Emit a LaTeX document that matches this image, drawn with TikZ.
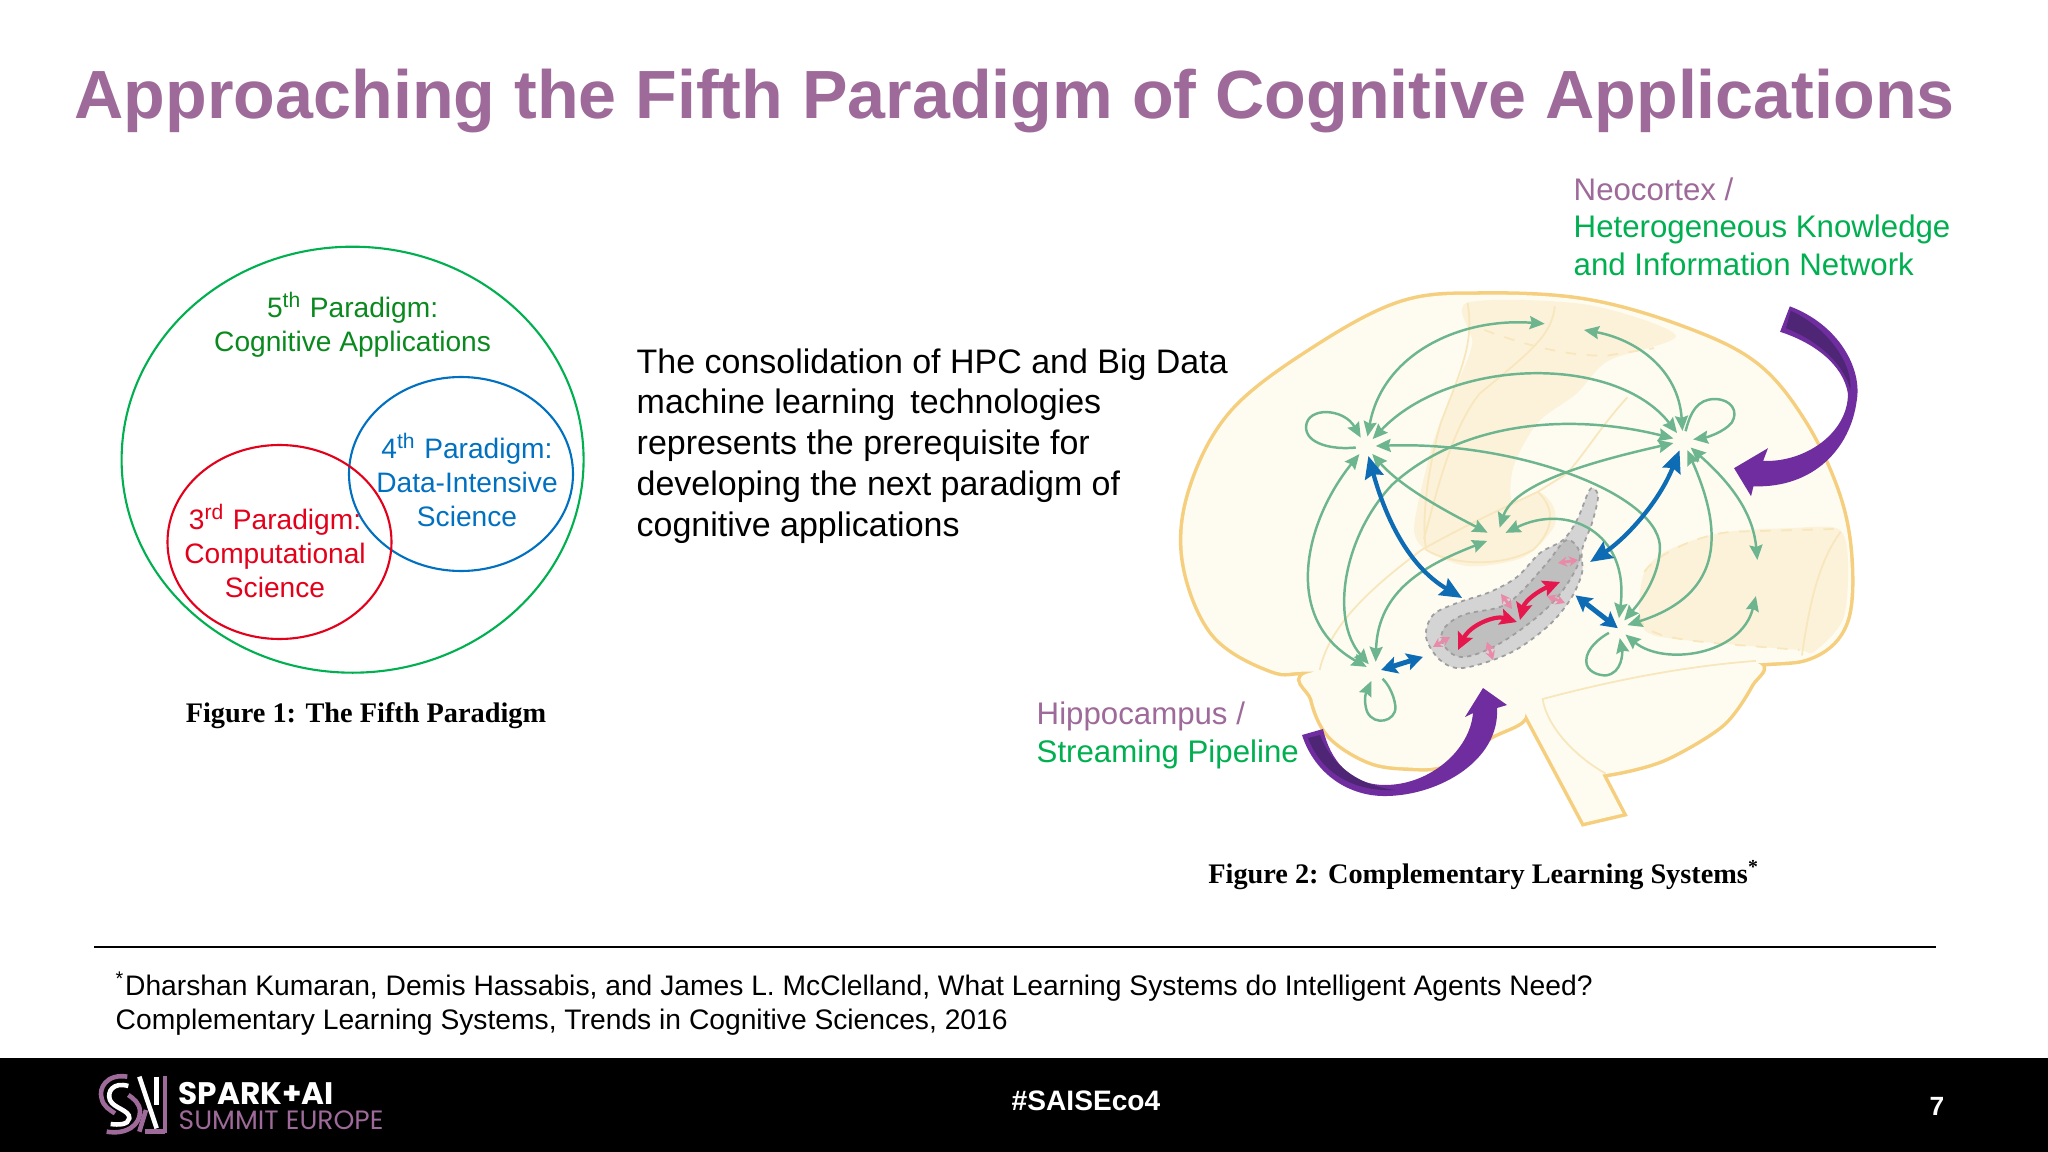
\documentclass[tikz,border=0pt]{standalone}
\usepackage{fontspec}
\usetikzlibrary{arrows.meta,positioning}
\setmainfont{Liberation Sans}
\newfontfamily\capfont{Liberation Serif}
\newfontfamily\logofont{Poppins}

\definecolor{titlepurple}{HTML}{9E6A99}
\definecolor{labelgreen}{HTML}{00B050}
\definecolor{darkgreen}{HTML}{0A8A1E}
\definecolor{paradigmblue}{HTML}{0070C0}
\definecolor{paradigmred}{HTML}{E3001B}
\definecolor{brainfill}{HTML}{FEFCF0}
\definecolor{brainline}{HTML}{F5CF7E}
\definecolor{lobefill}{HTML}{FCF2DA}
\definecolor{lobeline}{HTML}{F8E6BC}
\definecolor{syngreen}{HTML}{6DB58F}
\definecolor{synblue}{HTML}{0E6CB4}
\definecolor{synred}{HTML}{E6174C}
\definecolor{synpink}{HTML}{E88AA8}
\definecolor{fatpurple}{HTML}{6F2DA0}
\definecolor{deeppurple}{HTML}{4E2675}

\tikzset{
	brainzoom/.style={shift={(1150,270)},xscale=0.4847,yscale=0.3636},
	synline/.style={draw=syngreen, line width=0.7pt, shorten <=0.1cm, shorten >=0.1cm, >={Stealth[length=0.15cm,width=0.13cm,inset=0.02cm]}},
	syn/.style={synline, <->},
	synloop/.style={synline, ->},
	fatblue/.style={draw=synblue, line width=1.2pt, shorten <=0.1cm, <->, >={Stealth[length=0.22cm,width=0.19cm,inset=0.03cm]}},
	fatshort/.style={draw=synblue, line width=1.4pt, shorten <=0.06cm, <->, >={Stealth[length=0.16cm,width=0.17cm,inset=0.03cm]}},
	fatred/.style={draw=synred, line width=1.2pt, <->, >={Stealth[length=0.17cm,width=0.16cm,inset=0.03cm]}},
	pinkarrow/.style={draw=synpink, line width=0.8pt, <->, >={Stealth[length=0.09cm,width=0.1cm]}},
	lobeedge/.style={draw=lobeline, line width=0.5pt},
	paradigm/.style={align=center, inner sep=0pt, font=\fontsize{8}{9.7}\selectfont},
	sidelabel/.style={anchor=west, inner sep=0pt, font=\fontsize{8.88}{10.8}\selectfont},
	capt/.style={inner sep=0pt, font=\capfont\bfseries\fontsize{8.05}{9.7}\selectfont},
}

\newcommand{\cerebrumpath}{plot[smooth cycle, tension=0.6] coordinates {(340,1105) (250,1100) (130,1000) (70,800) (85,600) (170,390) (340,215) (520,90) (690,68) (900,85) (1100,160) (1250,260) (1350,420) (1420,620) (1445,800) (1435,970) (1370,1060) (1250,1082) (900,1100) (600,1120)}}
\newcommand{\temporalpath}{plot[smooth cycle, tension=0.6] coordinates {(340,1105) (335,1180) (370,1280) (450,1350) (530,1368) (610,1360) (700,1285) (775,1220) (700,1100)}}
\newcommand{\cerebellumpath}{plot[smooth cycle, tension=0.5] coordinates {(800,1200) (860,1385) (945,1385) (1060,1345) (1180,1250) (1240,1140) (1250,1080) (1000,1050)}}
\newcommand{\stempath}{(700,1100)--(775,1220)--(895,1520)--(975,1495)--(930,1380)--(860,1200)--(1000,1050)--cycle}

\begin{document}
\begin{tikzpicture}[x=0.01cm,y=-0.01cm]
	\useasboundingbox (0,0) rectangle (2048,1152);
	\fill[white] (0,0) rectangle (2048,1152);

	\node[anchor=west, inner sep=0pt, text=titlepurple, font=\bfseries\fontsize{19.4}{24}\selectfont] (title) at (74,101) {Approaching the Fifth Paradigm of Cognitive Applications};

	% paradigms
	\draw[labelgreen, line width=0.6pt] (352.6,459.7) ellipse [x radius=231, y radius=213];
	\draw[paradigmblue, line width=0.6pt] (461,474) ellipse [x radius=112, y radius=97];
	\draw[paradigmred, line width=0.6pt] (279.5,542) ellipse [x radius=112, y radius=97];

	\node[paradigm, text=darkgreen] (fifth) at (352.6,325) {5\textsuperscript{th} Paradigm:\\Cognitive Applications};
	\node[paradigm, text=paradigmblue] (fourth) at (467,480) {4\textsuperscript{th} Paradigm:\\Data-Intensive\\Science};
	\node[paradigm, text=paradigmred] (third) at (275,551) {3\textsuperscript{rd} Paradigm:\\Computational\\Science};
	\node[capt] (figone) at (366,716) {Figure 1: The Fifth Paradigm};

	\node[anchor=west, align=left, inner sep=0pt, font=\fontsize{9.66}{11.6}\selectfont] (consolidation) at (636,446) {The consolidation of HPC and Big Data\\machine learning\, technologies\\represents the prerequisite for\\developing the next paradigm of\\cognitive applications};

	% brain
	\begin{scope}[brainzoom]
		\draw[brainline, line width=2pt] \cerebrumpath;
		\draw[brainline, line width=2pt] \temporalpath;
		\draw[brainline, line width=2pt] \cerebellumpath;
		\draw[brainline, line width=2pt] \stempath;
		\fill[brainfill] \cerebrumpath;
		\fill[brainfill] \temporalpath;
		\fill[brainfill] \cerebellumpath;
		\fill[brainfill] \stempath;

		\fill[lobefill] plot[smooth cycle, tension=0.5] coordinates {(655,90) (665,200) (635,310) (590,450) (560,600) (545,720) (575,775) (660,815) (770,790) (832,710) (832,650) (800,610) (748,640) (750,540) (800,420) (880,340) (945,250) (1085,180) (900,95)};
		\fill[lobefill] plot[smooth cycle, tension=0.5] coordinates {(1070,770) (1180,722) (1320,710) (1420,712) (1440,800) (1430,960) (1370,1050) (1340,1045) (1200,1030) (1040,1005) (1010,950) (1020,830)};
		\draw[lobeline, line width=0.5pt, dashed] (1020,830)..controls (1040,790) and (1120,730) .. (1200,720) -- (1420,712);
		\draw[lobeline, line width=0.5pt, dashed] (1010,950) .. controls (1015,1000) and (1060,1015) .. (1200,1030) -- (1340,1045);
		\draw[lobeline, line width=0.5pt, dashed] (690,165) .. controls (760,200) and (860,240) .. (945,235) -- (1040,215);
		\draw[lobeedge] (655,90) .. controls (670,200) and (640,280) .. (600,420) .. controls (570,560) and (560,700) .. (570,770) .. controls (620,810) and (720,820) .. (790,770) .. controls (830,720) and (840,660) .. (800,610);
		\draw[lobeedge] (835,100) .. controls (830,180) and (780,230) .. (680,340) .. controls (620,440) and (590,620) .. (565,740);
		\draw[lobeedge] (350,1100) .. controls (370,980) and (450,880) .. (560,770) .. controls (640,710) and (720,660) .. (800,610);
		\draw[lobeedge] (985,350) .. controls (930,430) and (900,500) .. (860,560) -- (800,610);
		\draw[lobeedge] (1425,720) .. controls (1380,800) and (1360,920) .. (1345,1060);
		\draw[lobeedge] (1250,1075) .. controls (1100,1090) and (950,1130) .. (810,1180) .. controls (820,1260) and (880,1340) .. (940,1385);
	\end{scope}

	% hippocampus
	\filldraw[fill=black!17, draw=black!38, line width=0.5pt, dash pattern=on 1.2pt off 1.2pt] plot[smooth cycle, tension=0.55] coordinates {(1593,488) (1598,497) (1592,523) (1582,550) (1582,573) (1570,600) (1547,627) (1510,653) (1463,668) (1440,660) (1426,637) (1433,615) (1457,603) (1490,592) (1517,577) (1540,553) (1563,540) (1577,520) (1588,493)};
	\filldraw[fill=black!25, draw=black!38, line width=0.5pt, dash pattern=on 1.2pt off 1.2pt] plot[smooth cycle, tension=0.6] coordinates {(1567,540) (1580,557) (1563,590) (1537,617) (1497,645) (1463,657) (1445,647) (1443,630) (1463,615) (1500,607) (1520,593) (1547,563)};

	\begin{scope}[brainzoom]
		\coordinate (lhub) at (445,485);
		\coordinate (rhub) at (1100,470);
		\coordinate (chub) at (715,735);
		\coordinate (llhub) at (465,1105);
		\coordinate (lrhub) at (965,985);
		\coordinate (topl) at (835,150);
		\coordinate (topr) at (875,160);
		\coordinate (rmid) at (1255,825);
		\coordinate (rlow) at (1255,870);
		\coordinate (hipl) at (644,902);
		\coordinate (hipr) at (908,803);
		\coordinate (hipd) at (878,895);
		\coordinate (hipb) at (563,1064);

		\draw[syn] (lhub) .. controls (480,230) and (640,130) .. (topl);
		\draw[syn] (rhub) .. controls (1090,270) and (1000,190) .. (topr);
		\draw[syn] (lhub) .. controls (620,240) and (960,230) .. (rhub);
		\draw[syn] (rhub) .. controls (860,390) and (640,420) .. (500,590) .. controls (400,730) and (370,960) .. (llhub);
		\draw[syn] (lhub) .. controls (760,470) and (1060,620) .. (1052,770) .. controls (1048,860) and (1000,930) .. (lrhub);
		\draw[syn] (lhub) .. controls (520,600) and (620,670) .. (chub);
		\draw[syn] (lhub) .. controls (320,690) and (270,960) .. (llhub);
		\draw[syn] (rhub) .. controls (900,530) and (750,590) .. (chub);
		\draw[syn] (chub) .. controls (860,640) and (990,720) .. (lrhub);
		\draw[syn] (llhub) .. controls (470,880) and (570,810) .. (chub);
		\draw[syn] (rhub) .. controls (1180,710) and (1190,890) .. (lrhub);
		\draw[syn] (rhub) .. controls (1210,600) and (1245,680) .. (rmid);
		\draw[syn] (lrhub) .. controls (1060,1090) and (1220,1060) .. (rlow);

		\draw[synloop] (lhub) .. controls (380,495) and (320,480) .. (322,430) .. controls (325,375) and (400,380) .. (lhub);
		\draw[synloop] (rhub) .. controls (1115,390) and (1130,355) .. (1165,355) .. controls (1200,355) and (1215,390) .. (1200,420) .. controls (1185,445) and (1150,460) .. (rhub);
		\draw[synloop] (llhub) .. controls (500,1150) and (510,1200) .. (505,1215) .. controls (495,1250) and (450,1250) .. (445,1200) .. controls (440,1170) and (450,1150) .. (llhub);
		\draw[synloop] (lrhub) .. controls (930,1010) and (900,1040) .. (900,1075) .. controls (900,1105) and (925,1115) .. (940,1115) .. controls (975,1110) and (975,1050) .. (lrhub);

		\draw[fatblue] (lhub) .. controls (490,700) and (540,820) .. (hipl);
		\draw[fatblue] (rhub) .. controls (1050,640) and (980,740) .. (hipr);
		\draw[fatshort, shorten <=0pt] (hipd) -- (lrhub);
		\draw[fatshort] (llhub) -- (hipb);
	\end{scope}

	\draw[fatred] (1458,650) .. controls (1470,625) and (1495,615) .. (1517,622);
	\draw[fatred] (1520,620) .. controls (1525,600) and (1540,590) .. (1560,582);
	\draw[pinkarrow] (1433,647) -- (1450,637);
	\draw[pinkarrow] (1487,642) -- (1493,660);
	\draw[pinkarrow] (1501,594) -- (1512,609);
	\draw[pinkarrow] (1558,563) -- (1578,560);
	\draw[pinkarrow] (1547,596) -- (1565,603);

	% big arrows
	\begin{scope}[brainzoom]
		\fill[fatpurple] (1320,100) .. controls (1420,150) and (1470,270) .. (1458,360) .. controls (1445,490) and (1370,600) .. (1245,595) -- (1240,622) -- (1205,545) -- (1275,490) -- (1265,525) .. controls (1350,530) and (1440,450) .. (1440,340) .. controls (1430,260) and (1370,200) .. (1300,170) -- cycle;
		\fill[deeppurple] (1322,112) .. controls (1400,160) and (1450,260) .. (1445,330) .. controls (1430,250) and (1370,190) .. (1312,160) -- cycle;
	\end{scope}
	\fill[fatpurple] (1302,735) -- (1323,729) .. controls (1330,760) and (1350,785) .. (1385,785) .. controls (1430,785) and (1470,750) .. (1473,713) -- (1465,717) -- (1483,688) -- (1507,705) -- (1497,708) .. controls (1500,760) and (1440,795) .. (1387,796) .. controls (1350,797) and (1315,775) .. (1302,735) -- cycle;
	\fill[deeppurple] (1308,738) -- (1320,735) .. controls (1330,762) and (1355,785) .. (1395,790) .. controls (1350,792) and (1320,770) .. (1308,738) -- cycle;

	\node[sidelabel, text=titlepurple] (neocortex) at (1573,189) {Neocortex /};
	\node[sidelabel, text=labelgreen, below=0.13cm of neocortex.south west, anchor=north west, align=left] (heterogeneous) {Heterogeneous Knowledge\\and Information Network};
	\node[sidelabel, text=titlepurple] (hippocampus) at (1036,716) {Hippocampus /};
	\node[sidelabel, text=labelgreen] (streaming) at (1036,754) {Streaming Pipeline};
	\node[capt] (figtwo) at (1484,875) {Figure 2: Complementary Learning Systems\textsuperscript{*}};

	\draw[line width=0.5pt] (94,947) -- (1936,947);
	\node[anchor=west, align=left, inner sep=0pt, font=\fontsize{8.03}{9.7}\selectfont] (reference) at (115,1004) {\textsuperscript{*}Dharshan Kumaran, Demis Hassabis, and James L. McClelland, What Learning Systems do Intelligent Agents Need?\\Complementary Learning Systems, Trends in Cognitive Sciences, 2016};

	% footer
	\fill[black] (0,1058) rectangle (2048,1152);
	\begin{scope}[shift={(90,1060)},scale=0.3333]
		\draw[titlepurple, line width=1.3pt] (112,50) .. controls (50,40) and (25,85) .. (35,115) .. controls (40,140) and (60,150) .. (75,160);
		\draw[titlepurple, line width=1.3pt] (50,215) .. controls (110,225) and (150,195) .. (150,155) .. controls (150,130) and (130,115) .. (115,105);
		\draw[white, line width=1.3pt] (115,78) .. controls (70,65) and (50,95) .. (60,120) .. controls (70,145) and (120,150) .. (118,175) .. controls (115,195) and (85,195) .. (62,192);
		\draw[white, line width=1.3pt] (148,50) -- (200,205);
		\draw[white, line width=1.3pt] (200,50) -- (200,135);
		\draw[titlepurple, line width=1.3pt] (225,48) -- (225,218);
		\draw[titlepurple, line width=1.3pt] (165,215) -- (225,215);
		\draw[titlepurple, line width=1.3pt] (148,215) -- (168,150);
	\end{scope}
	\node[anchor=west, inner sep=0pt, text=white, font=\logofont\bfseries\fontsize{8.85}{10}\selectfont] (spark) at (178,1094) {SPARK+AI};
	\node[anchor=west, inner sep=0pt, text=titlepurple, font=\logofont\fontsize{7.55}{8}\selectfont] (summit) at (178,1120) {SUMMIT EUROPE};
	\node[inner sep=0pt, text=white, font=\bfseries\fontsize{8}{10}\selectfont] (hashtag) at (1086,1101) {\#SAISEco4};
	\node[inner sep=0pt, text=white, font=\bfseries\fontsize{7.5}{9}\selectfont] (pagenum) at (1937,1106) {7};
\end{tikzpicture}
\end{document}
